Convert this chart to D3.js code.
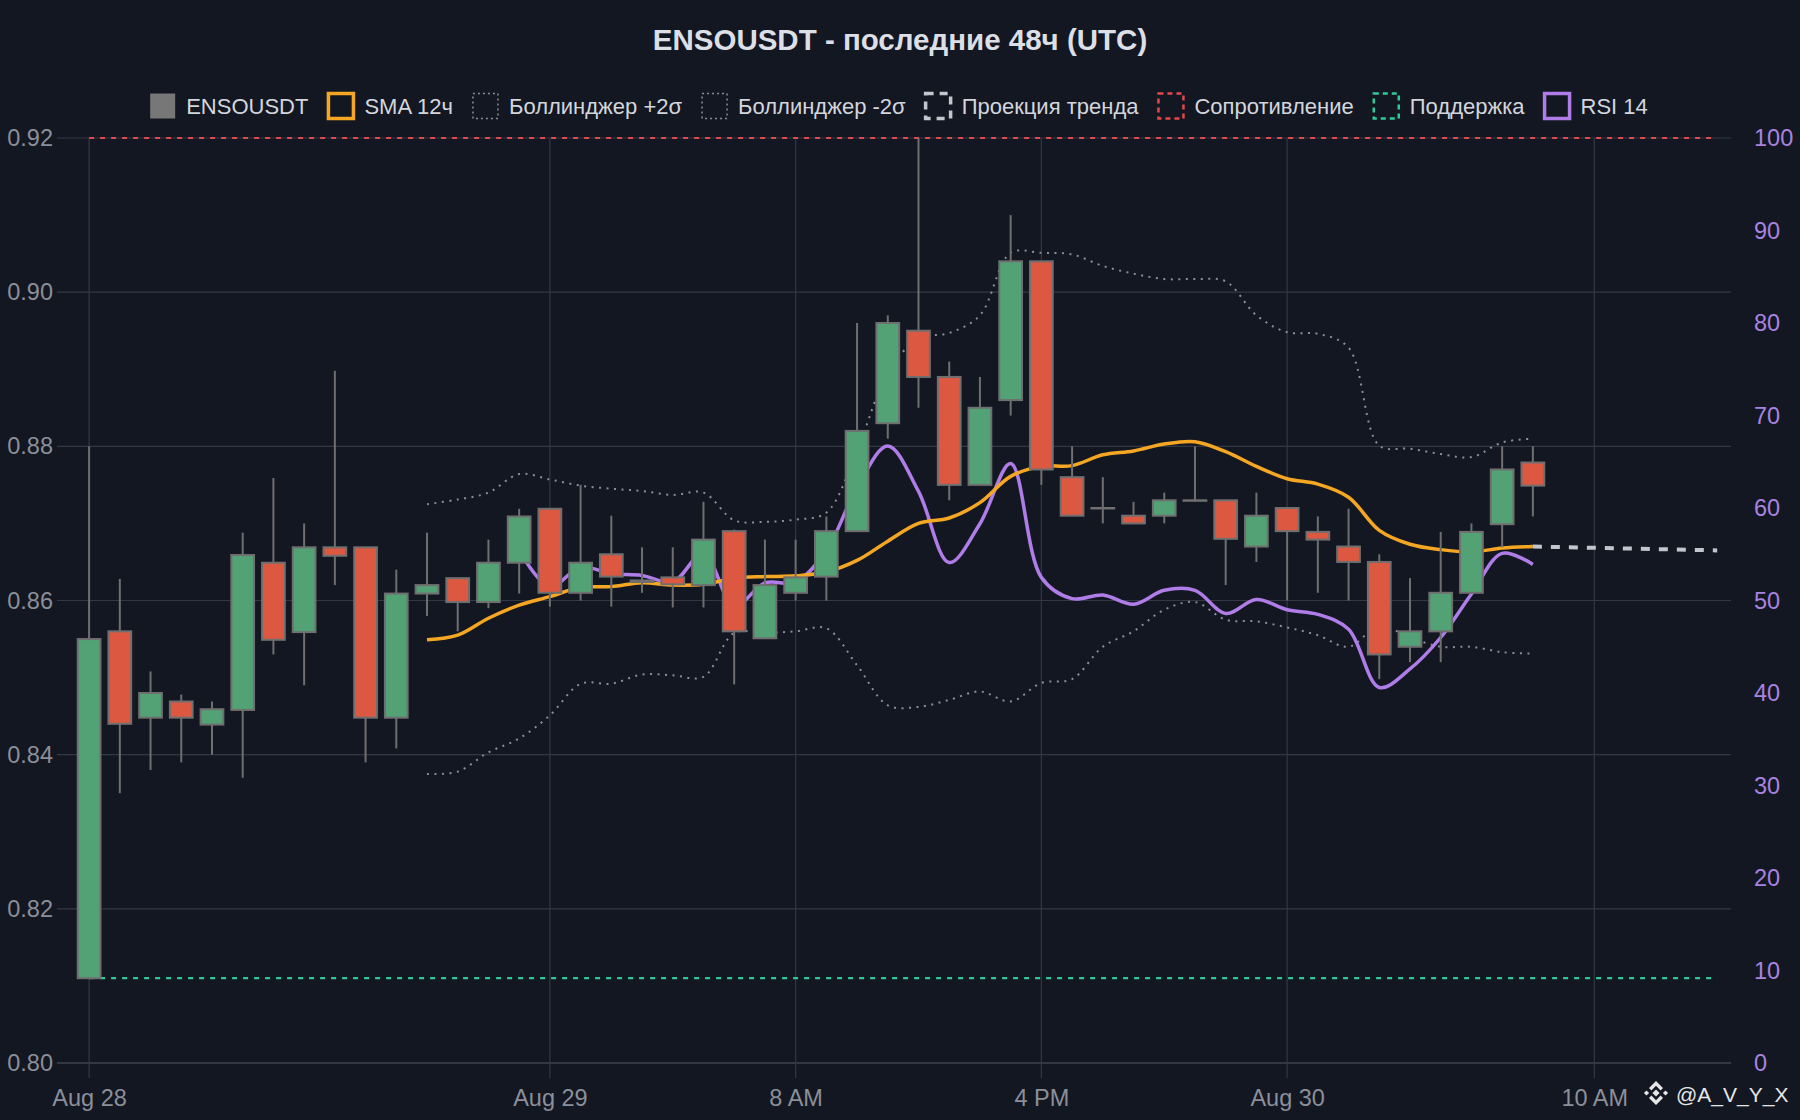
<!DOCTYPE html>
<html><head><meta charset="utf-8">
<script src="https://cdn.jsdelivr.net/npm/d3@7/dist/d3.min.js"></script>
<style>html,body{margin:0;padding:0;background:#131722;}svg{display:block;}</style>
</head><body><div id="chart"></div>
<script>
// ---------- DATA ----------
const chartTitle = "ENSOUSDT - последние 48ч (UTC)";
const seriesNames = ["ENSOUSDT","SMA 12ч","Боллинджер +2σ","Боллинджер -2σ","Проекция тренда","Сопротивление","Поддержка","RSI 14"];
const xTickIndex = [0,15,23,31,39,49];
const xTickLabels = ["Aug 28","Aug 29","8 AM","4 PM","Aug 30","10 AM"];
const priceTicks = [0.80,0.82,0.84,0.86,0.88,0.90,0.92];
const rsiTicks = [0,10,20,30,40,50,60,70,80,90,100];

const candleOpen  = [0.811,0.856,0.8448,0.8469,0.8439,0.8458,0.8649,0.8559,0.8669,0.8669,0.8448,0.8609,0.8629,0.8598,0.8649,0.8719,0.8610,0.8660,0.8624,0.8630,0.8620,0.8690,0.8551,0.8610,0.8631,0.8690,0.8830,0.8950,0.8890,0.8750,0.8860,0.9040,0.8760,0.8720,0.8710,0.8710,0.8730,0.8730,0.8670,0.8720,0.8689,0.8670,0.8650,0.8540,0.8560,0.8610,0.8699,0.8779];
const candleHigh  = [0.880,0.8628,0.8508,0.8478,0.8469,0.8688,0.8759,0.8700,0.8898,0.8669,0.8640,0.8688,0.8629,0.8679,0.8719,0.8720,0.8750,0.8710,0.8669,0.8669,0.8728,0.8692,0.8679,0.8679,0.8709,0.8960,0.8970,0.9200,0.8910,0.8890,0.9100,0.9040,0.8800,0.8760,0.8728,0.8740,0.8800,0.8730,0.8740,0.8720,0.8709,0.8719,0.8660,0.8629,0.8689,0.8700,0.8800,0.8800];
const candleLow   = [0.811,0.835,0.838,0.839,0.840,0.837,0.853,0.849,0.862,0.839,0.8408,0.858,0.856,0.859,0.8609,0.8592,0.860,0.8592,0.861,0.8591,0.8591,0.8491,0.8551,0.860,0.860,0.869,0.881,0.885,0.873,0.875,0.884,0.875,0.871,0.870,0.870,0.870,0.873,0.862,0.865,0.860,0.861,0.860,0.8498,0.852,0.852,0.861,0.8669,0.8709];
const candleClose = [0.855,0.844,0.848,0.8448,0.8459,0.8659,0.8549,0.8669,0.8658,0.8448,0.8609,0.862,0.8598,0.8649,0.8709,0.8610,0.8649,0.8631,0.8626,0.8621,0.8679,0.8560,0.8620,0.8630,0.8690,0.8820,0.8960,0.8890,0.8750,0.8850,0.9040,0.8770,0.8710,0.8720,0.8700,0.8730,0.8730,0.8680,0.8710,0.8690,0.8679,0.8650,0.8530,0.8560,0.8610,0.8689,0.8770,0.8749];

const smaStart = 11;
const sma12 = [0.8549,0.8555,0.8577,0.8594,0.8605,0.8617,0.8618,0.8623,0.8620,0.8621,0.8629,0.8631,0.8632,0.8637,0.8652,0.8677,0.8700,0.8707,0.8727,0.8761,0.8774,0.8775,0.8789,0.8794,0.8803,0.8806,0.8793,0.8774,0.8758,0.8751,0.8734,0.8691,0.8673,0.8666,0.8663,0.8668,0.8670];
const bbStart = 11;
const bbUpper = [0.8725,0.8731,0.8740,0.8764,0.8757,0.8749,0.8745,0.8742,0.8737,0.8740,0.8704,0.8702,0.8705,0.8714,0.8795,0.8895,0.8940,0.8947,0.8970,0.9051,0.9051,0.9049,0.9034,0.9024,0.9017,0.9017,0.9014,0.8970,0.8948,0.8946,0.8928,0.8801,0.8797,0.8790,0.8786,0.8805,0.8810];
const bbLower = [0.8375,0.8378,0.8403,0.8421,0.8451,0.8492,0.8492,0.8504,0.8503,0.8501,0.8558,0.8558,0.8560,0.8564,0.8516,0.8464,0.8462,0.8471,0.8482,0.8469,0.8493,0.8498,0.8540,0.8560,0.8588,0.8598,0.8575,0.8573,0.8565,0.8555,0.8540,0.8567,0.8552,0.8540,0.8540,0.8533,0.8531];
const rsiStart = 14;
const rsi14 = [55.4,51.5,53.6,52.9,52.7,52.0,55.1,49.4,51.9,52.0,55.4,62.2,66.7,61.8,54.1,58.3,64.8,52.5,50.2,50.6,49.6,51.1,51.1,48.6,50.1,49.0,48.5,46.9,40.6,42.6,46.0,50.7,55.1,53.9];
const projIndex = [47,53];
const projValue = [0.8670,0.8665];
const resistance = 0.92;
const support = 0.811;
const levelSpan = [0,53];

// ---------- LAYOUT ----------
const W = 1800, H = 1120;
const plotL = 57, plotR = 1731, plotT = 138, plotB = 1078;
const FONT = "'Liberation Sans', Arial, sans-serif";
const C = {bg:"#131722", grid:"#333845", tick:"#8b8f99", green:"#52a275", red:"#dd5841",
  outline:"#6f6f6f", sma:"#f5a623", rsi:"#b07de8", bb:"#8a8f99", proj:"#c3c6cd",
  res:"#e5484d", sup:"#2ecb98", rsiTick:"#a983e0"};

const x = d3.scaleLinear().domain([-1.045, 53.45]).range([plotL, plotR]);
const y = d3.scaleLinear().domain([0.80, 0.92]).range([1063, 138]);
const yR = d3.scaleLinear().domain([0, 100]).range([1063, 138]);

const svg = d3.select("#chart").append("svg").attr("width", W).attr("height", H)
  .style("font-family", FONT);
svg.append("rect").attr("width", W).attr("height", H).attr("fill", C.bg);

// title
svg.append("text").attr("x", 900).attr("y", 39).attr("text-anchor","middle")
  .attr("dominant-baseline","central").attr("font-size", 29.5).attr("font-weight","bold")
  .attr("fill","#dcdfe6").text(chartTitle);

// grid
const grid = svg.append("g");
grid.selectAll("line.h").data(priceTicks).join("line")
  .attr("x1", plotL).attr("x2", plotR).attr("y1", d=>y(d)).attr("y2", d=>y(d))
  .attr("stroke", C.grid).attr("stroke-width", (d)=> d===0.80 ? 2 : 1.2);
grid.selectAll("line.v").data(xTickIndex).join("line")
  .attr("x1", d=>x(d)).attr("x2", d=>x(d)).attr("y1", plotT).attr("y2", plotB)
  .attr("stroke", C.grid).attr("stroke-width", 1.2);

// axes labels
const leftAxis = d3.axisLeft(y).tickValues(priceTicks).tickFormat(d3.format(".2f")).tickSize(0).tickPadding(0);
const gl = svg.append("g").attr("transform", `translate(53,0)`).call(leftAxis);
gl.select(".domain").remove();
gl.selectAll("text").attr("fill", C.tick).attr("font-size", 23.5).attr("font-family", FONT);

const rightAxis = d3.axisRight(yR).tickValues(rsiTicks).tickFormat(d3.format("d")).tickSize(0).tickPadding(0);
const gr = svg.append("g").attr("transform", `translate(1754,0)`).call(rightAxis);
gr.select(".domain").remove();
gr.selectAll("text").attr("fill", C.rsiTick).attr("font-size", 23.5).attr("font-family", FONT);

const bottomAxis = d3.axisBottom(x).tickValues(xTickIndex).tickFormat((d,i)=>xTickLabels[i]).tickSize(0).tickPadding(0);
const gb = svg.append("g").attr("transform", `translate(0,1089)`).call(bottomAxis);
gb.select(".domain").remove();
gb.selectAll("text").attr("fill", C.tick).attr("font-size", 23.5).attr("font-family", FONT);

// plot content
const defs = svg.append("defs");
defs.append("clipPath").attr("id","clip").append("rect")
  .attr("x", plotL).attr("y", plotT-4).attr("width", plotR-plotL).attr("height", plotB-plotT+4);
const pg = svg.append("g").attr("clip-path","url(#clip)");

// levels
pg.append("line").attr("x1", x(levelSpan[0])).attr("x2", x(levelSpan[1]))
  .attr("y1", y(resistance)).attr("y2", y(resistance))
  .attr("stroke", C.res).attr("stroke-width", 2.2).attr("stroke-dasharray","5,6");
pg.append("line").attr("x1", x(levelSpan[0])).attr("x2", x(levelSpan[1]))
  .attr("y1", y(support)).attr("y2", y(support))
  .attr("stroke", C.sup).attr("stroke-width", 2.2).attr("stroke-dasharray","5,6");

const curve = d3.curveCatmullRom.alpha(0.5);
const mkLine = (start, scale) => d3.line().x((d,i)=>x(start+i)).y(d=>scale(d)).curve(curve);

pg.append("path").attr("d", mkLine(bbStart, y)(bbUpper)).attr("fill","none")
  .attr("stroke", C.bb).attr("stroke-width", 2).attr("stroke-dasharray","2,5.5");
pg.append("path").attr("d", mkLine(bbStart, y)(bbLower)).attr("fill","none")
  .attr("stroke", C.bb).attr("stroke-width", 2).attr("stroke-dasharray","2,5.5");
pg.append("path").attr("d", mkLine(rsiStart, yR)(rsi14)).attr("fill","none")
  .attr("stroke", C.rsi).attr("stroke-width", 3.5).attr("stroke-linejoin","round");
pg.append("path").attr("d", mkLine(smaStart, y)(sma12)).attr("fill","none")
  .attr("stroke", C.sma).attr("stroke-width", 3.5);
pg.append("path").attr("d", d3.line().x((d,i)=>x(projIndex[i])).y(d=>y(d))(projValue)).attr("fill","none")
  .attr("stroke", C.proj).attr("stroke-width", 4).attr("stroke-dasharray","9,9");

// candles
const idx = d3.range(candleOpen.length);
const step = x(1) - x(0);
const bw = step * 0.74;
const cg = pg.append("g");
cg.selectAll("line.wick").data(idx).join("line")
  .attr("x1", i=>x(i)).attr("x2", i=>x(i))
  .attr("y1", i=>y(candleHigh[i])).attr("y2", i=>y(candleLow[i]))
  .attr("stroke", C.outline).attr("stroke-width", 2);
cg.selectAll("rect.body").data(idx).join("rect")
  .attr("x", i=>x(i)-bw/2)
  .attr("y", i=>y(Math.max(candleOpen[i], candleClose[i])))
  .attr("width", bw)
  .attr("height", i=>Math.max(0.5, Math.abs(y(candleOpen[i]) - y(candleClose[i]))))
  .attr("fill", i=> candleClose[i] > candleOpen[i] ? C.green : C.red)
  .attr("stroke", C.outline).attr("stroke-width", 2);

// legend
const legendSpec = [
  {fill:"#777777", stroke:"none"},
  {fill:"none", stroke:C.sma, w:3.5},
  {fill:"none", stroke:C.bb, w:1.5, dash:"2,3"},
  {fill:"none", stroke:C.bb, w:1.5, dash:"2,3"},
  {fill:"none", stroke:C.proj, w:3.5, dash:"8,6"},
  {fill:"none", stroke:C.res, w:2.5, dash:"5,4"},
  {fill:"none", stroke:C.sup, w:2.5, dash:"5,4"},
  {fill:"none", stroke:C.rsi, w:3.5}
];
const lg = svg.append("g");
const sym = 25, gapST = 11, gapItem = 20, ly = 106;
const items = seriesNames.map((name,i)=>{
  const g = lg.append("g");
  const s = legendSpec[i];
  g.append("rect").attr("x", 0).attr("y", ly - sym/2).attr("width", sym).attr("height", sym)
    .attr("fill", s.fill).attr("stroke", s.stroke).attr("stroke-width", s.w||0)
    .attr("stroke-dasharray", s.dash||null);
  const t = g.append("text").attr("x", sym + gapST).attr("y", ly).attr("dominant-baseline","central")
    .attr("font-size", 22).attr("fill","#d3d6dd").text(name);
  return {g, w: sym + gapST + t.node().getComputedTextLength()};
});
const totalW = d3.sum(items, d=>d.w) + gapItem*(items.length-1);
let cx = 899 - totalW/2;
items.forEach(it=>{ it.g.attr("transform", `translate(${cx},0)`); cx += it.w + gapItem; });

// watermark
const wm = svg.append("g").attr("transform","translate(1656,1093)").attr("fill","#e6e6e6");
wm.append("path").attr("d","M0,-3.6 L3.6,0 L0,3.6 L-3.6,0 Z");
wm.append("path").attr("d","M0,-12 L7,-5 L4.6,-2.6 L0,-7.2 L-4.6,-2.6 L-7,-5 Z");
wm.append("path").attr("d","M0,12 L7,5 L4.6,2.6 L0,7.2 L-4.6,2.6 L-7,5 Z");
wm.append("path").attr("d","M-9.5,-2.6 L-6.9,0 L-9.5,2.6 L-12.1,0 Z");
wm.append("path").attr("d","M9.5,-2.6 L12.1,0 L9.5,2.6 L6.9,0 Z");
svg.append("text").attr("x",1676).attr("y",1094).attr("dominant-baseline","central")
  .attr("font-size",21).attr("fill","#e6e6e6").text("@A_V_Y_X");
</script></body></html>
